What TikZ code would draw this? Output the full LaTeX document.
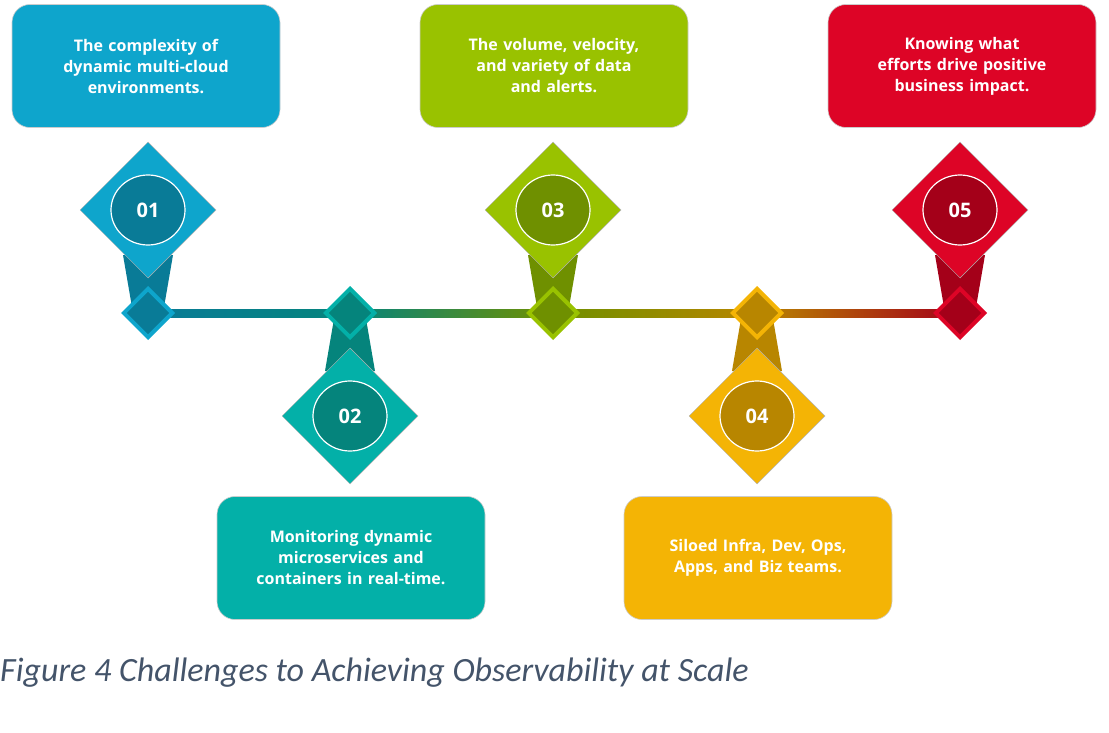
\documentclass[tikz,border=0pt]{standalone}
\usepackage{fontspec}
\setmainfont{Open Sans}
\newfontfamily\capfont{Carlito}
\usetikzlibrary{shapes.geometric}
\definecolor{cA}{RGB}{14,165,204}\definecolor{dA}{RGB}{9,123,151}
\definecolor{cB}{RGB}{3,176,168}\definecolor{dB}{RGB}{5,132,124}
\definecolor{cC}{RGB}{153,194,0}\definecolor{dC}{RGB}{111,144,0}
\definecolor{cD}{RGB}{244,180,5}\definecolor{dD}{RGB}{184,134,0}
\definecolor{cE}{RGB}{221,4,38}\definecolor{dE}{RGB}{164,0,25}
\definecolor{capc}{RGB}{68,84,106}
\tikzset{
 textbox/.style={rounded corners=18pt,minimum width=268pt,minimum height=123pt,text width=200pt,align=center,text=white,font=\fontsize{16}{21}\selectfont\bfseries,draw=white!80!black,line width=0.6pt},
 bigdia/.style={diamond,aspect=1,minimum width=136pt,minimum height=136pt,inner sep=0pt,draw=white!70!black,line width=0.5pt},
 smalldia/.style={diamond,aspect=1,minimum width=50pt,minimum height=50pt,inner sep=0pt,line width=4pt},
 numcirc/.style={ellipse,minimum width=74pt,minimum height=70pt,draw=white,line width=1.2pt,text=white,font=\fontsize{20}{24}\selectfont\bfseries}
}
\begin{document}
\begin{tikzpicture}[x=1pt,y=-1pt]
\useasboundingbox (0,0) rectangle (1109,733);
% timeline
\foreach \xa/\xb/\ca/\cb in {148/350/dA/dB,350/553/dB/dC,553/757/dC/dD,757/960/dD/dE}{
  \shade[left color=\ca,right color=\cb] (\xa,309) rectangle (\xb,317);}
% stems
\foreach \x/\c/\s in {148/dA/-1,350/dB/1,553/dC/-1,757/dD/1,960/dE/-1}{
  \fill[\c] (\x-25,313+\s*58) -- (\x+25,313+\s*58) -- (\x+15,313) -- (\x-15,313) -- cycle;}
% items
\node[bigdia,fill=cA] (d1) at (148,210) {}; \node[numcirc,fill=dA] (n1) at (d1) {01};
\node[bigdia,fill=cB] (d2) at (350,416) {}; \node[numcirc,fill=dB] (n2) at (d2) {02};
\node[bigdia,fill=cC] (d3) at (553,210) {}; \node[numcirc,fill=dC] (n3) at (d3) {03};
\node[bigdia,fill=cD] (d4) at (757,416) {}; \node[numcirc,fill=dD] (n4) at (d4) {04};
\node[bigdia,fill=cE] (d5) at (960,210) {}; \node[numcirc,fill=dE] (n5) at (d5) {05};
\foreach \x/\c/\d/\n in {148/cA/dA/1,350/cB/dB/2,553/cC/dC/3,757/cD/dD/4,960/cE/dE/5}{
  \node[smalldia,fill=\d,draw=\c] (s\n) at (\x,313) {};}
% boxes
\node[textbox,fill=cA] (b1) at (146,66) {The complexity of\\dynamic multi-cloud\\environments.};
\node[textbox,fill=cB] (b2) at (351,558) {Monitoring dynamic\\microservices and\\containers in real-time.};
\node[textbox,fill=cC] (b3) at (554,66) {The volume, velocity,\\and variety of data\\and alerts.};
\node[textbox,fill=cD] (b4) at (758,558) {Siloed Infra, Dev, Ops,\\Apps, and Biz teams.};
\node[textbox,fill=cE] (b5) at (962,66) {Knowing what\\efforts drive positive\\business impact.};
\node[anchor=west,text=capc,font=\capfont\itshape\fontsize{34}{40}\selectfont,inner sep=0pt] (cap) at (0,673) {Figure 4 Challenges to Achieving Observability at Scale};
\end{tikzpicture}
\end{document}
